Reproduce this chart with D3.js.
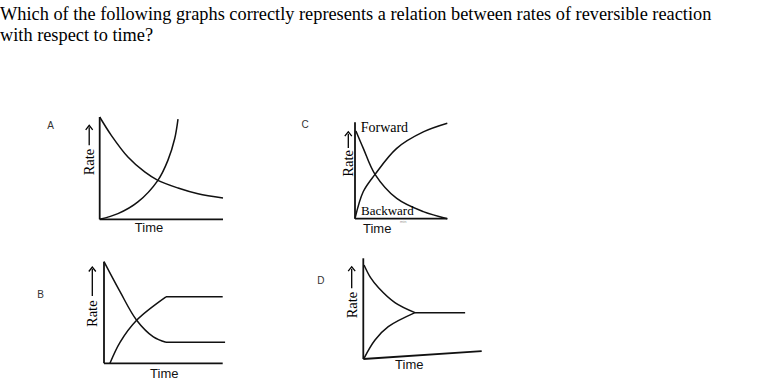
<!DOCTYPE html>
<html>
<head>
<meta charset="utf-8">
<script src="https://cdn.jsdelivr.net/npm/d3@7"></script>
<style>
html,body{margin:0;padding:0;background:#fff;}
svg{display:block;}
</style>
</head>
<body>
<svg id="chart" width="757" height="383"></svg>
<script>
// ---- text ----
const titleLines = [
  "Which of the following graphs correctly represents a relation between rates of reversible reaction",
  "with respect to time?"
];
const panelLabels = ["A", "B", "C", "D"];
const xAxisTitle = "Time";
const yAxisTitle = "Rate";
const forwardLabel = "Forward";
const backwardLabel = "Backward";
const unitNote = "min";

// ---- data (time, rate) in arbitrary 0-10 units ----
const aFalling = [[0,10],[0.94,8.21],[2.29,6.09],[3.65,4.63],[4.72,3.81],[6.35,3.06],[7.97,2.5],[10,2.08]];
const aRising  = [[0,0],[1.48,0.55],[3.1,1.7],[4.72,3.81],[5.53,5.76],[6.08,7.87],[6.35,9.8]];

// curved part then flat plateau (last two points form the straight segment)
const bFalling = [[0,10],[1.35,7.05],[2.75,4.24],[4.16,2.6],[5.22,2.07],[10.2,2.07]];
const bRising  = [[0.5,0],[1.35,2.07],[2.75,4.24],[5.22,6.54],[10,6.54]];

const cForward  = [[0,0],[0.9,2.82],[2.17,4.6],[4.52,7.3],[7.4,9.0],[10,9.9]];
const cBackward = [[0.1,9.1],[0.9,7.3],[2.17,4.6],[4.52,2.1],[7.4,0.73],[10,0]];

const dFalling = [[0.06,9.33],[0.6,8.1],[1.27,7.1],[2.67,5.6],[4.37,4.6],[8.6,4.6]];
const dRising  = [[0.06,0.07],[0.99,1.89],[2.11,3.21],[4.37,4.6]];
const dTimeAxisEnd = [10, 0.79];

// ---- layout ----
const panels = [
  {label:panelLabels[0], lx:50.7, ly:125, x:[99.7,223], y:[219.3,117],
   curves:[{pts:aFalling,flat:false},{pts:aRising,flat:false}], axisEnd:[10,0],
   rateX:89.2, rateBottom:175.3, arrow:[145.3,125.3], timeX:149, timeY:231.7},
  {label:panelLabels[1], lx:40.5, ly:294.7, x:[104,222.7], y:[363.3,261.7],
   curves:[{pts:bFalling,flat:true},{pts:bRising,flat:true}], axisEnd:[10,0],
   rateX:92.3, rateBottom:327, arrow:[296,267], timeX:164.3, timeY:377.7},
  {label:panelLabels[2], lx:305, ly:124.5, x:[355,447.3], y:[218.7,122.3],
   curves:[{pts:cForward,flat:false},{pts:cBackward,flat:false}], axisEnd:[10,0],
   rateX:348.3, rateBottom:176.7, arrow:[148,131.7], timeX:377.2, timeY:233.3},
  {label:panelLabels[3], lx:320.8, ly:280.5, x:[363.3,481.7], y:[359,258.3],
   curves:[{pts:dFalling,flat:true},{pts:dRising,flat:false}], axisEnd:dTimeAxisEnd,
   rateX:351.7, rateBottom:318.3, arrow:[288.3,266.7], timeX:409.3, timeY:369.3}
];

const svg = d3.select("#chart");
const ink = "#111";

// title
const titleG = svg.append("g");
const t1 = titleG.append("text").attr("x",0).attr("y",19.5)
  .attr("font-family","'Liberation Serif','Times New Roman',serif").attr("font-size",16)
  .attr("fill","#000").text(titleLines[0]);
const w = t1.node().getComputedTextLength();
const fs = 16 * 712 / w;
t1.attr("font-size", fs);
titleG.append("text").attr("x",0).attr("y",41)
  .attr("font-family","'Liberation Serif','Times New Roman',serif").attr("font-size",fs)
  .attr("fill","#000").text(titleLines[1]);

panels.forEach(p => {
  const g = svg.append("g");
  const sx = d3.scaleLinear().domain([0,10]).range(p.x);
  const sy = d3.scaleLinear().domain([0,10]).range(p.y);
  const smooth = d3.line().x(d => sx(d[0])).y(d => sy(d[1])).curve(d3.curveCatmullRom.alpha(0.5));
  const straight = d3.line().x(d => sx(d[0])).y(d => sy(d[1]));

  // axes
  g.append("line").attr("x1",sx(0)).attr("y1",sy(0)).attr("x2",sx(0)).attr("y2",sy(10))
    .attr("stroke",ink).attr("stroke-width",1.8);
  g.append("line").attr("x1",sx(0)).attr("y1",sy(0)).attr("x2",sx(p.axisEnd[0])).attr("y2",sy(p.axisEnd[1]))
    .attr("stroke",ink).attr("stroke-width",1.8);

  // curves
  p.curves.forEach(c => {
    const pts = c.pts;
    if (c.flat) {
      const k = pts.length - 2;
      g.append("path").attr("d", smooth(pts.slice(0, k + 1))).attr("fill","none")
        .attr("stroke",ink).attr("stroke-width",1.5).attr("stroke-linejoin","round");
      g.append("path").attr("d", straight(pts.slice(k))).attr("fill","none")
        .attr("stroke",ink).attr("stroke-width",1.5);
    } else {
      g.append("path").attr("d", smooth(pts)).attr("fill","none")
        .attr("stroke",ink).attr("stroke-width",1.5);
    }
  });

  // panel letter
  g.append("text").attr("x",p.lx).attr("y",p.ly).attr("text-anchor","middle")
    .attr("dominant-baseline","central")
    .attr("font-family","'Liberation Sans',Arial,sans-serif").attr("font-size",10)
    .attr("fill","#333").text(p.label);

  // Rate label (rotated)
  g.append("text")
    .attr("transform",`translate(${p.rateX+4.8},${p.rateBottom}) rotate(-90)`)
    .attr("font-family","'Liberation Serif','Times New Roman',serif").attr("font-size",14.5)
    .attr("fill","#000").text(yAxisTitle);
  // arrow
  g.append("line").attr("x1",p.rateX).attr("x2",p.rateX).attr("y1",p.arrow[0]).attr("y2",p.arrow[1]+2)
    .attr("stroke","#000").attr("stroke-width",1.3);
  g.append("path")
    .attr("d",`M${p.rateX-3.5},${p.arrow[1]+4.5} L${p.rateX},${p.arrow[1]} L${p.rateX+3.5},${p.arrow[1]+4.5}`)
    .attr("fill","none").attr("stroke","#000").attr("stroke-width",1.3);

  // Time label
  g.append("text").attr("x",p.timeX).attr("y",p.timeY).attr("text-anchor","middle")
    .attr("font-family","'Liberation Sans',Arial,sans-serif").attr("font-size",13)
    .attr("fill","#111").text(xAxisTitle);

  if (p.label === "C") {
    g.append("text").attr("x",360.7).attr("y",131.7)
      .attr("font-family","'Liberation Serif','Times New Roman',serif").attr("font-size",14)
      .attr("fill","#000").text(forwardLabel);
    g.append("text").attr("x",361).attr("y",215)
      .attr("font-family","'Liberation Serif','Times New Roman',serif").attr("font-size",13)
      .attr("fill","#000").text(backwardLabel);
    g.append("text").attr("x",400).attr("y",223)
      .attr("font-family","'Liberation Sans',Arial,sans-serif").attr("font-size",4)
      .attr("fill","#999").text(unitNote);
  }
});
</script>
</body>
</html>
